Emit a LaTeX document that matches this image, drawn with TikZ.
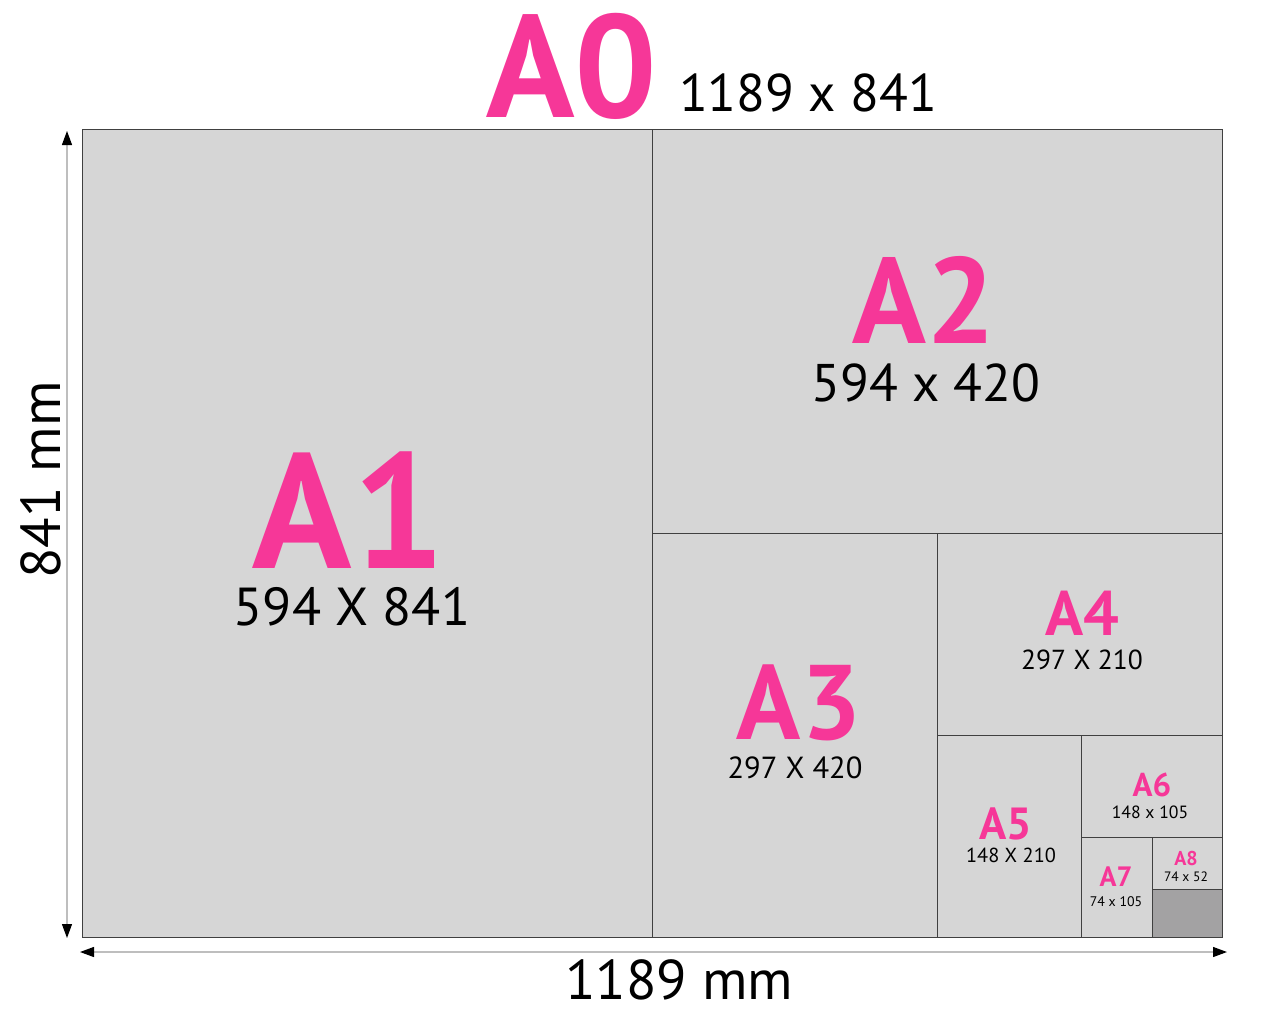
\documentclass[tikz,border=0pt]{standalone}
\usepackage{fontspec}
\setmainfont{PT Sans}
\usetikzlibrary{arrows.meta}
\definecolor{pinkA}{RGB}{246,55,152}
\definecolor{sheetgray}{RGB}{214,214,214}
\definecolor{restgray}{RGB}{163,162,163}
\definecolor{rulegray}{RGB}{190,190,190}

\begin{document}
\begin{tikzpicture}[x=1pt,y=-1pt,
			sheet/.style={draw=black!75,line width=1pt,fill=sheetgray},
			aname/.style={text=pinkA,font=\bfseries\fontsize{#1}{#1}\selectfont,inner sep=0pt},
			asize/.style={font=\fontsize{#1}{#1}\selectfont,inner sep=0pt},
			dimline/.style={draw=rulegray,line width=1.2pt,
				{Triangle[length=14pt,width=10pt,color=black]}-{Triangle[length=14pt,width=10pt,color=black]}}]
			\useasboundingbox (0,0) rectangle (1280,1018);
			\foreach \xa/\ya/\xb/\yb in {82/129/652/937, 652/129/1222/533, 652/533/937/937,
				937/533/1222/735, 937/735/1081/937, 1081/735/1222/837,
				1081/837/1152/937, 1152/837/1222/889}
				\draw[sheet] (\xa,\ya) rectangle (\xb,\yb);
			\draw[sheet,fill=restgray] (1152,889) rectangle (1222,937);
			\node[aname=146] (a0) at (572,66) {A0};
			\node[asize=53] (a0size) at (808,93) {1189 x 841};
			\node[aname=164] (a1) at (349,510) {A1};
			\node[asize=53.5] (a1size) at (352,607) {594 X 841};
			\node[aname=122] (a2) at (924,300) {A2};
			\node[asize=53] (a2size) at (926,383) {594 x 420};
			\node[aname=106] (a3) at (799,703) {A3};
			\node[asize=30.5] (a3size) at (795,768) {297 X 420};
			\node[aname=63] (a4) at (1082,613) {A4};
			\node[asize=27.5] (a4size) at (1082,660) {297 X 210};
			\node[aname=45] (a5) at (1006,824) {A5};
			\node[asize=20.3] (a5size) at (1011,855) {148 X 210};
			\node[aname=33] (a6) at (1152,785) {A6};
			\node[asize=17.7] (a6size) at (1150,812) {148 x 105};
			\node[aname=28] (a7) at (1116,877) {A7};
			\node[asize=13.9] (a7size) at (1116,902) {74 x 105};
			\node[aname=20] (a8) at (1186,858) {A8};
			\node[asize=13.6] (a8size) at (1186,877) {74 x 52};
			\coordinate (htop) at (67,131);
			\coordinate (hbot) at (67,938);
			\coordinate (wleft) at (80,952);
			\coordinate (wright) at (1227,952);
			\draw[dimline] (htop) -- (hbot);
			\draw[dimline] (wleft) -- (wright);
			\node[asize=56,rotate=90] (height) at (41,480) {841 mm};
			\node[asize=56] (width) at (679,980) {1189 mm};
			\end{tikzpicture}
\end{document}
